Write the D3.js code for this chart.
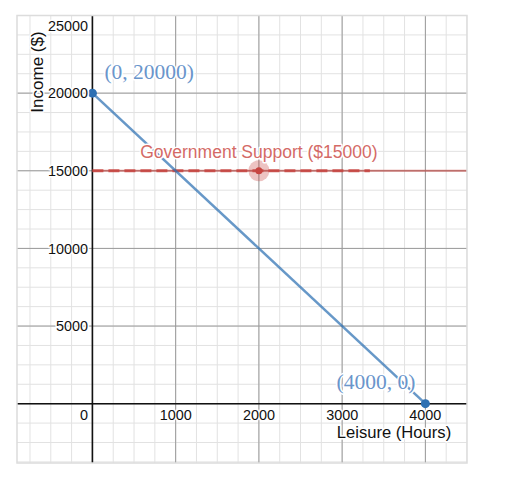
<!DOCTYPE html>
<html>
<head>
<meta charset="utf-8">
<script src="https://cdn.jsdelivr.net/npm/d3@7"></script>
<style>
  html, body { margin: 0; padding: 0; background: #fff; }
  svg { display: block; }
</style>
</head>
<body>
<svg id="chart" width="527" height="482"></svg>
<script>
// ---- data ----
const xDomain = [-906, 4500];
const yDomain = [-3820, 25000];
const xMajorTicks = [1000, 2000, 3000, 4000];
const yMajorTicks = [5000, 10000, 15000, 20000, 25000];
const xMinorStep = 250;
const yMinorStep = 1250;
const budgetLine = [{x: 0, y: 20000}, {x: 4000, y: 0}];
const budgetLabels = ["(0, 20000)", "(4000, 0)"];
const supportLevel = 15000;
const supportDashedEnd = 3333;
const supportPoint = {x: 2000, y: 15000};
const supportLabel = "Government Support ($15000)";
const xTitle = "Leisure (Hours)";
const yTitle = "Income ($)";

// ---- layout ----
const plot = {left: 17, top: 15.5, right: 467, bottom: 463};
const svg = d3.select("#chart");
const x = d3.scaleLinear().domain(xDomain).range([plot.left, plot.right]);
const y = d3.scaleLinear().domain(yDomain).range([plot.bottom, plot.top]);

const blue = "#2d70b3", red = "#c74440";

svg.append("clipPath").attr("id", "clip").append("rect")
  .attr("x", plot.left).attr("y", plot.top)
  .attr("width", plot.right - plot.left).attr("height", plot.bottom - plot.top);

const g = svg.append("g").attr("clip-path", "url(#clip)");

// minor grid
const xMinor = d3.range(Math.ceil(xDomain[0] / xMinorStep) * xMinorStep, xDomain[1] + 1, xMinorStep);
const yMinor = d3.range(Math.ceil(yDomain[0] / yMinorStep) * yMinorStep, yDomain[1] + 1, yMinorStep);
g.selectAll(".xminor").data(xMinor).join("line")
  .attr("x1", d => x(d)).attr("x2", d => x(d))
  .attr("y1", plot.top).attr("y2", plot.bottom)
  .attr("stroke", "#e2e2e2").attr("stroke-width", 1);
g.selectAll(".yminor").data(yMinor).join("line")
  .attr("y1", d => y(d)).attr("y2", d => y(d))
  .attr("x1", plot.left).attr("x2", plot.right)
  .attr("stroke", "#e2e2e2").attr("stroke-width", 1);

// major grid
const xMajor = d3.range(Math.ceil(xDomain[0] / 1000) * 1000, xDomain[1] + 1, 1000);
const yMajor = d3.range(Math.ceil(yDomain[0] / 5000) * 5000, yDomain[1] + 1, 5000);
g.selectAll(".xmajor").data(xMajor).join("line")
  .attr("x1", d => x(d)).attr("x2", d => x(d))
  .attr("y1", plot.top).attr("y2", plot.bottom)
  .attr("stroke", "#9a9a9a").attr("stroke-width", 1);
g.selectAll(".ymajor").data(yMajor).join("line")
  .attr("y1", d => y(d)).attr("y2", d => y(d))
  .attr("x1", plot.left).attr("x2", plot.right)
  .attr("stroke", "#9a9a9a").attr("stroke-width", 1);

// border
svg.append("rect")
  .attr("x", plot.left).attr("y", plot.top)
  .attr("width", plot.right - plot.left).attr("height", plot.bottom - plot.top)
  .attr("fill", "none").attr("stroke", "#dcdcdc").attr("stroke-width", 1.5);

// axes
g.append("line").attr("x1", x(0)).attr("x2", x(0)).attr("y1", plot.top).attr("y2", plot.bottom)
  .attr("stroke", "#111").attr("stroke-width", 1.6);
g.append("line").attr("y1", y(0)).attr("y2", y(0)).attr("x1", plot.left).attr("x2", plot.right)
  .attr("stroke", "#111").attr("stroke-width", 1.6);

// tick labels
const tickFont = "'Liberation Sans', Arial, sans-serif";
const tickSize = 14.4;
function halo(sel) {
  sel.attr("paint-order", "stroke").attr("stroke", "#fff").attr("stroke-width", 3)
     .attr("stroke-linejoin", "round");
}
svg.selectAll(".xt").data(xMajorTicks).join("text")
  .attr("x", d => x(d)).attr("y", y(0) + 16.2)
  .attr("text-anchor", "middle").attr("font-family", tickFont).attr("font-size", tickSize)
  .attr("fill", "#111").text(d => d).call(halo);
svg.append("text").attr("x", x(0) - 4.5).attr("y", y(0) + 16.2)
  .attr("text-anchor", "end").attr("font-family", tickFont).attr("font-size", tickSize)
  .attr("fill", "#111").text("0").call(halo);
svg.selectAll(".yt").data(yMajorTicks).join("text")
  .attr("x", x(0) - 4.5)
  .attr("y", d => Math.max(y(d), plot.top + 10) + 5.2)
  .attr("text-anchor", "end").attr("font-family", tickFont).attr("font-size", tickSize)
  .attr("fill", "#111").text(d => d).call(halo);

// axis titles
svg.append("text")
  .attr("transform", `translate(42.5, 72) rotate(-90)`)
  .attr("text-anchor", "middle").attr("font-family", tickFont).attr("font-size", 17)
  .attr("fill", "#111").text(yTitle).call(halo);
svg.append("text")
  .attr("x", 394).attr("y", 438)
  .attr("text-anchor", "middle").attr("font-family", tickFont).attr("font-size", 16.6)
  .attr("fill", "#111").text(xTitle).call(halo);

// government support line
g.append("line")
  .attr("x1", x(0)).attr("x2", plot.right)
  .attr("y1", y(supportLevel)).attr("y2", y(supportLevel))
  .attr("stroke", red).attr("stroke-opacity", 0.6).attr("stroke-width", 2);
g.append("line")
  .attr("x1", x(0)).attr("x2", x(supportDashedEnd))
  .attr("y1", y(supportLevel)).attr("y2", y(supportLevel))
  .attr("stroke", red).attr("stroke-opacity", 0.85).attr("stroke-width", 3)
  .attr("stroke-dasharray", "11,5");

// budget line
const line = d3.line().x(d => x(d.x)).y(d => y(d.y));
g.append("path").datum(budgetLine).attr("d", line)
  .attr("fill", "none").attr("stroke", blue).attr("stroke-opacity", 0.72).attr("stroke-width", 2.5);

// support point
g.append("circle").attr("cx", x(supportPoint.x)).attr("cy", y(supportPoint.y)).attr("r", 10.5)
  .attr("fill", red).attr("fill-opacity", 0.32);
g.append("circle").attr("cx", x(supportPoint.x)).attr("cy", y(supportPoint.y)).attr("r", 3.5)
  .attr("fill", red);

// budget points
g.selectAll(".bp").data(budgetLine).join("circle")
  .attr("cx", d => x(d.x)).attr("cy", d => y(d.y)).attr("r", 4.5).attr("fill", blue);

// labels
const mathFont = "'Liberation Serif', 'DejaVu Serif', serif";
svg.append("text").attr("x", x(budgetLine[0].x) + 12).attr("y", y(budgetLine[0].y) - 14)
  .attr("font-family", mathFont).attr("font-size", 21.5).attr("fill", "#6a95cb")
  .text(budgetLabels[0]).call(halo);
svg.append("text").attr("x", x(budgetLine[1].x) - 10).attr("y", y(budgetLine[1].y) - 15)
  .attr("text-anchor", "end")
  .attr("font-family", mathFont).attr("font-size", 21.5).attr("fill", "#6a95cb")
  .text(budgetLabels[1]).call(halo);
svg.append("text").attr("x", x(supportPoint.x)).attr("y", y(supportPoint.y) - 13)
  .attr("text-anchor", "middle")
  .attr("font-family", tickFont).attr("font-size", 17.5).attr("fill", "#d46a66")
  .text(supportLabel).call(halo);
</script>
</body>
</html>
